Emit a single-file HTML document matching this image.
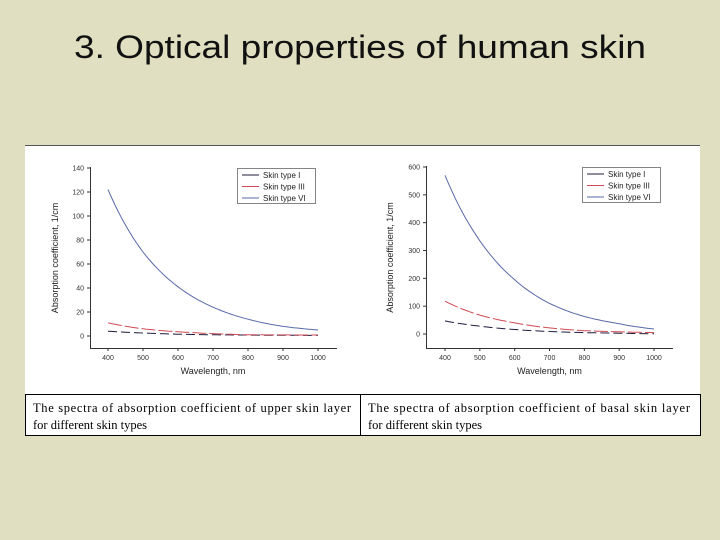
<!DOCTYPE html>
<html><head><meta charset="utf-8"><style>
html,body{margin:0;padding:0;background:#e0dfc1;}
svg{display:block;font-family:"Liberation Sans",sans-serif;}
</style></head><body>
<svg id="s" width="720" height="540" viewBox="0 0 720 540">
<rect width="720" height="540" fill="#e0dfc1"/>
<text x="74" y="58" font-size="32" textLength="572" lengthAdjust="spacingAndGlyphs" fill="#111">3. Optical properties of human skin</text>
<rect x="25" y="145" width="675" height="290" fill="#fff"/>
<line x1="25" y1="145.5" x2="700" y2="145.5" stroke="#555" stroke-width="1"/>
<rect x="25.5" y="394.5" width="675" height="41" fill="#fff" stroke="#000" stroke-width="1"/>
<line x1="360.5" y1="394.5" x2="360.5" y2="435.5" stroke="#000"/>
<g font-family="Liberation Serif,serif" font-size="12.5" fill="#000">
<text x="33" y="412" textLength="318" lengthAdjust="spacing">The spectra of absorption coefficient of upper skin layer</text>
<text x="33" y="429">for different skin types</text>
<text x="368" y="412" textLength="322" lengthAdjust="spacing">The spectra of absorption coefficient of basal skin layer</text>
<text x="368" y="429">for different skin types</text>
</g>
<g id="c1"></g>
<g id="c2"></g>
</svg>
<script>
const wavelengths = [400,500,600,700,800,900,1000];
const upperTypeI = [4,2.5,1.5,1,0.8,0.6,0.5];
const upperTypeIII = [11,6,3.5,2,1,0.9,0.8];
const upperTypeVI = [122,70,41,24,14,8,5];
const basalTypeI = [47,28,16,9,5,3,1];
const basalTypeIII = [118,68,40,22,12,8,5];
const basalTypeVI = [570,335,195,110,63,37,18];
const upperYTicks = [0,20,40,60,80,100,120,140];
const basalYTicks = [0,100,200,300,400,500,600];
const xTicks = [400,500,600,700,800,900,1000];
const seriesNames = ["Skin type I","Skin type III","Skin type VI"];
const NS="http://www.w3.org/2000/svg";
function mk(parent,tag,attrs){const e=document.createElementNS(NS,tag);for(const k in attrs)e.setAttribute(k,attrs[k]);parent.appendChild(e);return e;}
function interp(xs,ys,x){for(let i=0;i<xs.length-1;i++){if(x<=xs[i+1]){const t=(x-xs[i])/(xs[i+1]-xs[i]);const a=Math.log(Math.max(ys[i],0.01)),b=Math.log(Math.max(ys[i+1],0.01));return Math.exp(a+(b-a)*t);}}return ys[ys.length-1];}
function chart(g,cfg){
  const X=v=>cfg.x400+(v-400)*(cfg.x1000-cfg.x400)/600;
  const Y=v=>cfg.y0+(v)*(cfg.yTop-cfg.y0)/cfg.yMax;
  const ax=mk(g,'path',{d:`M${cfg.axL+.5},${cfg.yTop-1} V${cfg.axB+.5} H${cfg.axR}`,stroke:'#333',fill:'none','stroke-width':1});
  
  
  xTicks.forEach(v=>{
    const l=mk(g,'line',{x1:X(v),x2:X(v),y1:cfg.axB,y2:cfg.axB+3,stroke:'#333'});
    
    
    const t=mk(g,'text',{x:X(v),y:cfg.axB+12,'font-size':7,'text-anchor':'middle',fill:'#333'});t.textContent=v;
    
    
  });
  cfg.yTicks.forEach(v=>{
    const l=mk(g,'line',{x1:cfg.axL-3,x2:cfg.axL,y1:Y(v),y2:Y(v),stroke:'#333'});
    
    
    const t=mk(g,'text',{x:cfg.axL-6,y:Y(v)+2.5,'font-size':7,'text-anchor':'end',fill:'#333'});t.textContent=v;
    
    
  });
  const xt=mk(g,'text',{x:(X(400)+X(1000))/2,y:cfg.axB+26,'font-size':9,'text-anchor':'middle',fill:'#222'});xt.textContent='Wavelength, nm';
  
  
  const yt=mk(g,'text',{x:0,y:0,'font-size':9,'text-anchor':'middle',fill:'#222',transform:`translate(${cfg.ytX},${(cfg.yTop+cfg.axB)/2}) rotate(-90)`});yt.textContent='Absorption coefficient, 1/cm';
  
  
  const colors=['#1c1c3c','#d04a55','#5a6aa8'];
  const dashes=['9,4','14,3','none'];
  cfg.series.forEach((s,i)=>{
    let d='';
    for(let w=400;w<=1000;w+=10){d+=(w===400?'M':'L')+X(w).toFixed(1)+','+Y(interp(wavelengths,s,w)).toFixed(1);}
    const p=mk(g,'path',{d,stroke:colors[i],fill:'none','stroke-width':1,'stroke-dasharray':dashes[i]});
    
    
  });
  const lg=mk(g,'rect',{x:cfg.lx+.5,y:cfg.ly+.5,width:78,height:35,fill:'#fff',stroke:'#666','stroke-width':.8});
  
  
  seriesNames.forEach((n,i)=>{
    const yy=cfg.ly+7+i*11.5;
    const l=mk(g,'line',{x1:cfg.lx+5,x2:cfg.lx+22,y1:yy,y2:yy,stroke:colors[i]});
    
    
    const t=mk(g,'text',{x:cfg.lx+26,y:yy+3,'font-size':8,fill:'#222'});t.textContent=n;
    
    
  });
}
chart(document.getElementById('c1'),{x400:108,x1000:318,y0:336,yTop:168,yMax:140,axL:90,axR:337,axB:348,yTicks:upperYTicks,ytX:58,lx:237,ly:168,series:[upperTypeI,upperTypeIII,upperTypeVI]});
chart(document.getElementById('c2'),{x400:445,x1000:654,y0:334,yTop:167,yMax:600,axL:426,axR:673,axB:348,yTicks:basalYTicks,ytX:393,lx:582,ly:167,series:[basalTypeI,basalTypeIII,basalTypeVI]});
</script>
</body></html>
